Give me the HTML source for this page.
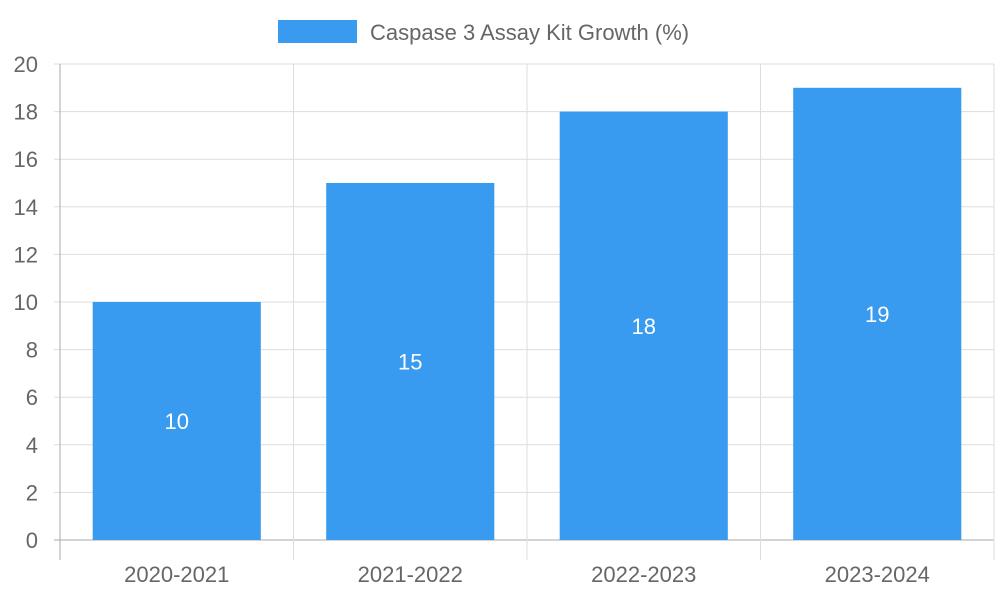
<!DOCTYPE html>
<html><head><meta charset="utf-8"><style>
body{margin:0;background:#fff;}
svg{display:block;font-family:"Liberation Sans",sans-serif;}
</style></head><body>
<svg id="chart" width="1000" height="600"></svg>
<script>
const categories=["2020-2021","2021-2022","2022-2023","2023-2024"];
const values=[10,15,18,19];
const yTicks=[0,2,4,6,8,10,12,14,16,18,20];
const seriesName="Caspase 3 Assay Kit Growth (%)";

const NS="http://www.w3.org/2000/svg";
const svg=document.getElementById("chart");
const L=60,R=994,T=64,B=540,yMax=20;
const y=v=>B-(v/yMax)*(B-T);
const cw=(R-L)/categories.length;
const x=i=>L+i*cw;
function mk(tag,attrs,text){const e=document.createElementNS(NS,tag);for(const k in attrs)e.setAttribute(k,attrs[k]);if(text!==undefined)e.textContent=text;svg.appendChild(e);return e;}

yTicks.forEach(t=>{
  const g=mk("line",{x1:L-6,x2:R,y1:y(t),y2:y(t),stroke:t===0?"#aaa":"#ddd","stroke-width":1});
  
  
  const lb=mk("text",{x:L-22,y:y(t)+8,"text-anchor":"end","font-size":22,fill:"#666"},String(t));
  
  
});
for(let i=0;i<=categories.length;i++){
  const g=mk("line",{x1:x(i),x2:x(i),y1:T,y2:B+20,stroke:i===0?"#aaa":"#ddd","stroke-width":1});
  
  
}
categories.forEach((c,i)=>{
  const bw=cw*0.72;
  const bx=x(i)+(cw-bw)/2;
  const r=mk("rect",{x:bx,y:y(values[i]),width:bw,height:B-y(values[i]),fill:"#389bf0"});
  
  
  const v=mk("text",{x:x(i)+cw/2,y:(y(values[i])+B)/2+8,"text-anchor":"middle","font-size":22,fill:"#fff"},String(values[i]));
  
  
  const lb=mk("text",{x:x(i)+cw/2,y:582,"text-anchor":"middle","font-size":22,fill:"#666"},c);
  
  
});
const lr=mk("rect",{x:278,y:20,width:79,height:23,fill:"#389bf0"});


const lt=mk("text",{x:370,y:40,"font-size":22,fill:"#666"},seriesName);


</script>
</body></html>
